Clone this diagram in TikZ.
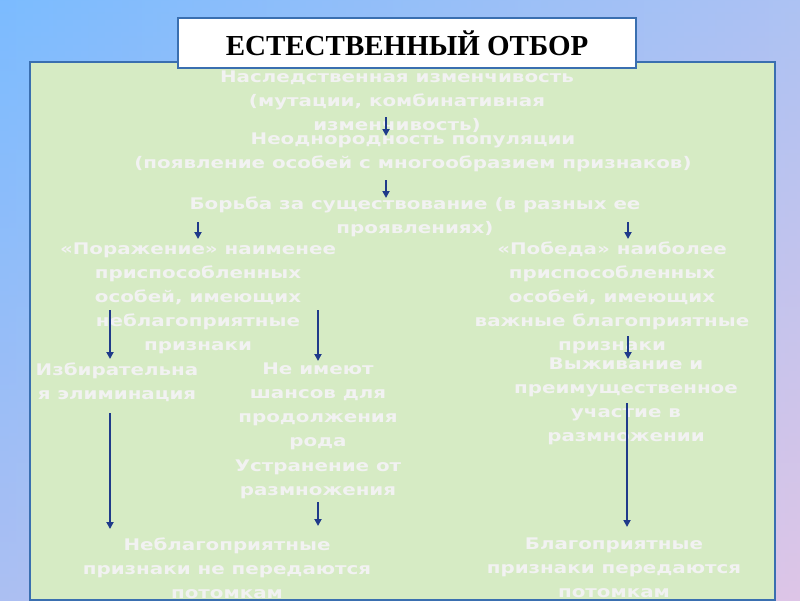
\documentclass[tikz,border=0pt]{standalone}
\usepackage{fontspec}
\setmainfont{DejaVu Sans}
\newfontfamily\widefont[FakeStretch=1.24]{DejaVu Sans}
\newfontfamily\titlefont{Liberation Serif}
\usetikzlibrary{arrows.meta}
\definecolor{panel}{HTML}{D6EBC4}
\definecolor{arr}{HTML}{1F3A8A}
\definecolor{frame}{HTML}{3A6FB0}
\definecolor{tx}{HTML}{F2F2F2}
\tikzset{
  txt/.style={text=tx,font=\widefont\bfseries\fontsize{16}{24}\selectfont,align=center,inner sep=0pt},
  arrw/.style={draw=arr,line width=2pt,-{Triangle[length=7pt,width=7pt]}}
}
\begin{document}
\begin{tikzpicture}[x=1pt,y=-1pt]
\useasboundingbox (0,0) rectangle (800,600);
\shade[top color=white!40!cyan!60!blue!70, bottom color=blue!20!violet!25] (0,0) rectangle (800,600);
\shade[left color=cyan!50!blue!50,right color=blue!10!violet!20,opacity=0.5] (0,0) rectangle (800,600);
\draw[frame,line width=1.5pt,fill=panel] (30,62) rectangle (775,600);
\node[draw=frame,line width=2pt,fill=white,minimum width=458,minimum height=50,font=\titlefont\bfseries\fontsize{29}{32}\selectfont] (title) at (407,43) {ЕСТЕСТВЕННЫЙ ОТБОР};
\node[txt] (n1) at (397,102) {Наследственная изменчивость\\(мутации, комбинативная\\изменчивость)};
\node[txt] (n2) at (413,152) {Неоднородность популяции\\(появление особей с многообразием признаков)};
\node[txt] (n3) at (415,217) {Борьба за существование (в разных ее\\проявлениях)};
\node[txt] (l1) at (198,298) {«Поражение» наименее\\приспособленных\\особей, имеющих\\неблагоприятные\\признаки};
\node[txt] (r1) at (612,298) {«Победа» наиболее\\приспособленных\\особей, имеющих\\важные благоприятные\\признаки};
\node[txt] (l2) at (117,382) {Избирательна\\я элиминация};
\node[txt] (m2) at (318,406) {Не имеют\\шансов для\\продолжения\\рода};
\node[txt] (m3) at (318,479) {Устранение от\\размножения};
\node[txt] (r2) at (626,401) {Выживание и\\преимущественное\\участие в\\размножении};
\node[txt] (l3) at (227,568) {Неблагоприятные\\признаки не передаются\\потомкам};
\node[txt] (r3) at (614,568) {Благоприятные\\признаки передаются\\потомкам};
\coordinate (a1s) at (386,117); \coordinate (a1e) at (386,136);
\coordinate (a2s) at (386,180); \coordinate (a2e) at (386,198);
\coordinate (a3s) at (198,222); \coordinate (a3e) at (198,239);
\coordinate (a4s) at (628,222); \coordinate (a4e) at (628,239);
\coordinate (a5s) at (110,310); \coordinate (a5e) at (110,359);
\coordinate (a6s) at (318,310); \coordinate (a6e) at (318,361);
\coordinate (a7s) at (628,336); \coordinate (a7e) at (628,359);
\coordinate (a8s) at (110,413); \coordinate (a8e) at (110,529);
\coordinate (a9s) at (318,502); \coordinate (a9e) at (318,526);
\coordinate (a10s) at (627,403); \coordinate (a10e) at (627,527);
\foreach \i in {1,...,10}{\draw[arrw] (a\i s) -- (a\i e);}
\end{tikzpicture}
\end{document}
